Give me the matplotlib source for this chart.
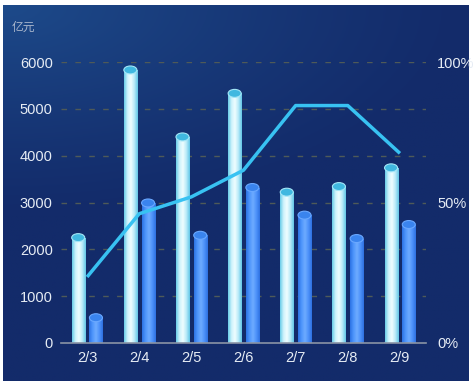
import numpy as np
import matplotlib
matplotlib.use("Agg")
import matplotlib.pyplot as plt
from matplotlib.patches import Ellipse
from matplotlib.colors import LinearSegmentedColormap

categories = ["2/3", "2/4", "2/5", "2/6", "2/7", "2/8", "2/9"]
series_a = [2250, 5830, 4400, 5330, 3220, 3340, 3740]
series_b = [540, 2990, 2300, 3320, 2730, 2230, 2530]
ratio = [0.235, 0.46, 0.52, 0.615, 0.845, 0.845, 0.675]
left_ticks = [0, 1000, 2000, 3000, 4000, 5000, 6000]
right_ticks = [0, 0.5, 1.0]
right_labels = ["0%", "50%", "100%"]

W, H = 474, 381
fig = plt.figure(figsize=(W / 100, H / 100), dpi=100, facecolor="white")

# background panel
bg = fig.add_axes([3 / W, 0, 466 / W, 376 / H])
bg.set_axis_off()
ny, nx = 200, 250
yy, xx = np.mgrid[0:1:ny * 1j, 0:1:nx * 1j]
base = np.array([0x13, 0x2b, 0x6a]) / 255
light = np.array([0x1d, 0x4a, 0x8a]) / 255
d = np.sqrt((xx * 0.9) ** 2 + (yy * 1.6) ** 2)
t = np.clip(1 - d / 0.9, 0, 1) ** 1.2
img = base[None, None, :] * (1 - t[..., None]) + light[None, None, :] * t[..., None]
bg.imshow(img, extent=[0, 1, 0, 1], aspect="auto", origin="upper")
bg.set_xlim(0, 1)
bg.set_ylim(0, 1)

ax = fig.add_axes([61 / W, 38 / H, 365 / W, 281 / H])
ax.patch.set_alpha(0)
x = np.arange(len(categories))
off = 0.17
bw = 0.25

cmap_a = LinearSegmentedColormap.from_list("a", ["#68cce8", "#cdf2fb", "#effdff", "#b8eaf8", "#62c6e6"])
cmap_b = LinearSegmentedColormap.from_list("b", ["#2c72e4", "#4e96fc", "#6eabff", "#4d92fa", "#2e70e0"])
grad = np.linspace(0, 1, 64)[None, :]

def draw_bars(xs, vals, cmap, cap_col, cap_edge):
    bars = ax.bar(xs, vals, width=bw, color="none", edgecolor="none", zorder=3)
    for r in bars:
        x0, w, h = r.get_x(), r.get_width(), r.get_height()
        im = ax.imshow(grad, extent=[x0, x0 + w, 0, h], aspect="auto", cmap=cmap, zorder=3)
        im.set_clip_path(r)
        ax.add_patch(Ellipse((x0 + w / 2, h), w, 170, facecolor=cap_col, edgecolor=cap_edge, lw=0.8, zorder=4))
        ax.add_patch(Ellipse((x0 + w / 2, 0), w, 170, facecolor=cmap(0.5), edgecolor="none", zorder=2.9))

draw_bars(x - off, series_a, cmap_a, "#40b8e0", "#a4e6f7")
draw_bars(x + off, series_b, cmap_b, "#3a84ee", "#6aa8ff")

ax.set_xlim(-0.5, len(categories) - 0.5)
ax.set_ylim(0, 6000)
ax.set_yticks(left_ticks)
ax.set_yticklabels([str(v) for v in left_ticks])
ax.set_xticks(x)
ax.set_xticklabels(categories)
for s in ["top", "right", "left"]:
    ax.spines[s].set_visible(False)
ax.spines["bottom"].set_color("#8a94a6")
ax.spines["bottom"].set_linewidth(1.2)
ax.spines["bottom"].set_zorder(5)
ax.tick_params(axis="y", length=0, pad=6, colors="#e6ecf4", labelsize=10.5)
ax.tick_params(axis="x", length=0, pad=6, colors="#e6ecf4", labelsize=10.5)
for lab in ax.get_xticklabels() + ax.get_yticklabels():
    lab.set_fontfamily("Liberation Sans")
for v in left_ticks[1:]:
    ax.axhline(v, color="#4f5a58", lw=1, ls=(0, (4, 6)), zorder=1)

ax2 = ax.twinx()
ax2.set_ylim(0, 1)
ax2.plot(x, ratio, color="#38c2f2", lw=2.5, zorder=6, solid_capstyle="butt")
ax2.set_yticks(right_ticks)
ax2.set_yticklabels(right_labels)
for s in ["top", "right", "left", "bottom"]:
    ax2.spines[s].set_visible(False)
ax2.tick_params(axis="y", length=0, pad=8, colors="#e6ecf4", labelsize=10.5)
for lab in ax2.get_yticklabels():
    lab.set_fontfamily("Liberation Sans")

fig.text(12 / W, 1 - 27 / H, "亿元", color="#a9b6cc", fontsize=8.5,
         family=["Noto Sans CJK SC", "DejaVu Sans"], va="center", ha="left")

fig.savefig("out.png", dpi=100, facecolor="white")
